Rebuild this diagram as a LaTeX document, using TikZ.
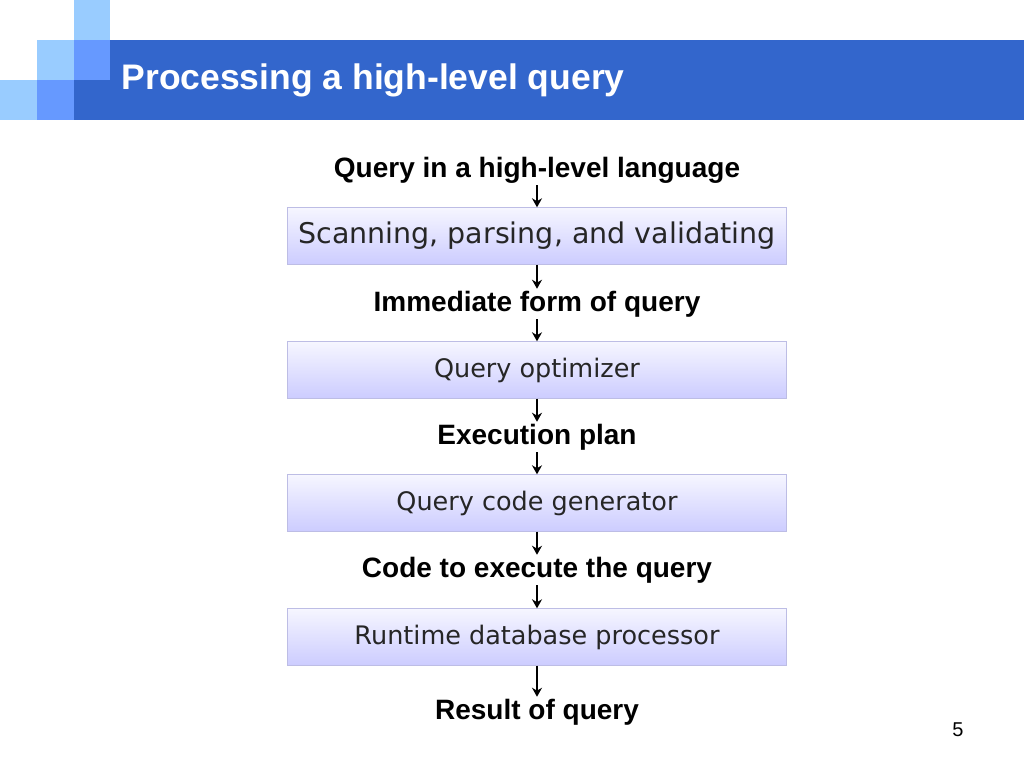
\documentclass[tikz,border=0pt]{standalone}
\usepackage{fontspec}
\setmainfont{Liberation Sans}
\newfontfamily\boxfont{DejaVu Sans}
\usetikzlibrary{arrows.meta}

\definecolor{bandblue}{RGB}{51,102,204}
\definecolor{midblue}{RGB}{102,153,255}
\definecolor{paleblue}{RGB}{153,204,255}
\definecolor{boxtop}{RGB}{246,246,255}
\definecolor{boxbot}{RGB}{204,204,255}

\tikzset{
  stage/.style={draw=boxbot!80!gray, top color=boxtop, bottom color=boxbot,
    minimum width=499pt, minimum height=57pt, inner sep=0pt,
    font=\boxfont\fontsize{25.5}{28}\selectfont, text=black!85},
  label/.style={font=\bfseries\fontsize{28}{32}\selectfont, inner sep=2pt},
  flow/.style={-{Stealth[length=9pt,width=10pt]}, line width=1.8pt}
}

\begin{document}
\begin{tikzpicture}[x=1pt,y=-1pt]
  \useasboundingbox (0,0) rectangle (1024,768);
  % header
  \fill[bandblue] (74,40) rectangle (1024,120);
  \fill[paleblue] (74,0) rectangle (110,40);
  \fill[paleblue] (37,40) rectangle (74,80);
  \fill[midblue] (74,40) rectangle (110,80);
  \fill[paleblue] (0,80) rectangle (37,120);
  \fill[midblue] (37,80) rectangle (74,120);
  \node[anchor=west, text=white, font=\bfseries\fontsize{35.5}{38}\selectfont] (title) at (118,80) {Processing a high-level query};

  % stages
  \node[label] (q) at (537,170) {Query in a high-level language};
  \node[stage, font=\boxfont\fontsize{28.5}{32}\selectfont] (scan) at (537,236) {Scanning, parsing, and validating};
  \node[label] (imm) at (537,304) {Immediate form of query};
  \node[stage] (opt) at (537,370) {Query optimizer};
  \node[label] (plan) at (537,437) {Execution plan};
  \node[stage] (gen) at (537,503) {Query code generator};
  \node[label] (code) at (537,570) {Code to execute the query};
  \node[stage] (run) at (537,637) {Runtime database processor};
  \node[label] (res) at (537,712) {Result of query};

  \foreach \a/\b in {q/scan, scan/imm, imm/opt, opt/plan, plan/gen, gen/code, code/run, run/res}
    \draw[flow] (\a) -- (\b);

  \node[font=\fontsize{20}{24}\selectfont] (page) at (958,730) {5};
\end{tikzpicture}
\end{document}
